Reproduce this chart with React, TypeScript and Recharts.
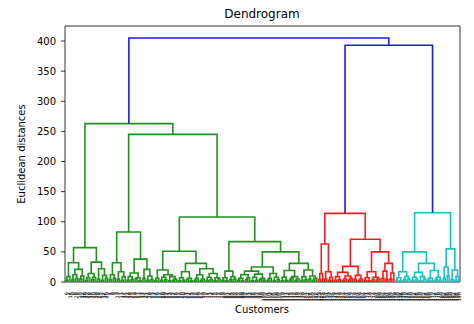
import React from "react";
import { LineChart, Line, XAxis, YAxis, ReferenceArea } from "recharts";

// A node is either a leaf (customer index) or [mergeHeight, left, right]
type Node = number | [number, Node, Node];

// ---------- green cluster ----------
const greenA1: Node = [32, [9, [3, 6, 2], 14], [21, [12, [4, 0, 8], [6, 26, 4]], [10, [5, 30, 12], 16]]];
const greenA2: Node = [33, [14, [7, [3, 10, 22], 18], [8, [4, 34, 20], 38]], [22, [5, 28, 24], [11, [3, 42, 32], [6, 36, 40]]]];
const greenB1: Node = [32, [12, [4, 1, 5], [6, 9, 3]], [17, [5, 13, 7], [9, [3, 11, 17], 15]]];
const greenB2: Node = [38, [15, [9, [3, 21, 19], [4, 25, 23]], [7, [5, 29, 27], [2, 33, 31]]], [21, [6, 37, 35], [10, [3, 41, 39], [4, 45, 43]]]];
const greenC1a: Node = [20, [6, [2, 44, 46], 47], [12, [8, [3, 48, 50], [4, 49, 52]], [9, [2, 51, 53], [5, [3, 55, 54], 56]]]];
const greenC1b: Node = [31, [17, [7, [2, 57, 58], [3, 60, 59]], [6, [4, 61, 62], [2, 64, 63]]], [22, [12, [6, [3, 65, 66], 68], [5, [2, 67, 69], 70]], [14, [8, [3, 72, 71], [4, 73, 74]], [7, [2, 75, 76], [5, 77, 78]]]]];
const greenC2a: Node = [18, [7, [3, 79, 80], [2, 81, 82]], [9, [4, 84, 83], [5, 85, 86]]];
const greenC2bl: Node = [25, [18, [12, [6, [3, 87, 88], [2, 89, 90]], [7, [4, 92, 91], 93]], [13, [8, [2, 94, 96], [3, 95, 97]], [6, [4, 98, 99], [3, 100, 102]]]], [14, [6, [3, 101, 103], 104], [8, [2, 105, 106], [4, 108, 107]]]];
const greenC2br: Node = [31, [19, [8, [2, 109, 110], [3, 111, 112]], [9, [6, [3, 114, 113], 115], [5, [2, 116, 118], 117]]], [20, [9, [3, 119, 120], [4, 121, 122]], [10, [5, 124, 126], [6, [3, 132, 142], 146]]]];
const greenTree: Node = [263, [57, greenA1, greenA2], [245, [83, greenB1, greenB2], [108, [51, greenC1a, greenC1b], [67, greenC2a, [50, greenC2bl, greenC2br]]]]];

// ---------- red cluster ----------
const redR1: Node = [63, [14, [4, 123, 127], 125], [17, [5, 129, 131], [8, [3, 133, 137], 135]]];
const redR2a: Node = [26, [16, [9, [3, 139, 141], [4, 143, 145]], [10, [5, [2, 147, 149], 151], [6, [3, 153, 155], 157]]], [11, [4, 159, 161], [5, [2, 163, 165], 167]]];
const redR2bl: Node = [17, [7, [3, 169, 171], [2, 173, 175]], [8, [4, 177, 179], [5, [2, 181, 183], 185]]];
const redR2br: Node = [31, [18, [6, 187, 189], [4, 191, 193]], [15, [5, 195, 197], 199]];
const redTree: Node = [114, redR1, [71, redR2a, [50, redR2bl, redR2br]]];

// ---------- cyan cluster ----------
const cyanY1a: Node = [17, [7, [3, 128, 130], [2, 134, 136]], [9, [4, 138, 140], [5, 144, 148]]];
const cyanY1b: Node = [31, [16, [8, [3, 150, 152], [4, 154, 156]], [9, [2, 158, 160], [5, 162, 164]]], [19, [6, [3, 166, 168], [2, 170, 172]], [8, [4, 174, 176], [3, 178, 180]]]];
const cyanY2: Node = [55, [25, [6, 182, 184], [10, 186, 188]], [20, [4, 190, 192], [9, [3, 194, 196], 198]]];
const cyanTree: Node = [115, [50, cyanY1a, cyanY1b], cyanY2];

// top-level merges (above colour threshold)
const redCyanMergeHeight = 393;
const rootHeight = 405;

const yTicks = [0, 50, 100, 150, 200, 250, 300, 350, 400];
const yMax = 425;

const COLORS = { green: "#1f911f", red: "#ff1a1a", cyan: "#1abfbf", blue: "#1a1aff" };

type Pt = { x: number; y: number | null };
const segs: Record<string, Pt[]> = { green: [], red: [], cyan: [], blue: [] };
const leafLabels: number[] = [];

function link(a: { x: number; y: number }, b: { x: number; y: number }, h: number, color: string) {
  segs[color].push({ x: a.x, y: a.y }, { x: a.x, y: h }, { x: b.x, y: h }, { x: b.x, y: b.y }, { x: b.x, y: null });
  return { x: (a.x + b.x) / 2, y: h };
}

function layout(node: Node, color: string): { x: number; y: number } {
  if (typeof node === "number") {
    const idx = leafLabels.length;
    leafLabels.push(node);
    return { x: 5 + 10 * idx, y: 0 };
  }
  const a = layout(node[1], color);
  const b = layout(node[2], color);
  return link(a, b, node[0], color);
}

const g = layout(greenTree, "green");
const r = layout(redTree, "red");
const c = layout(cyanTree, "cyan");
const rc = link(r, c, redCyanMergeHeight, "blue");
link(g, rc, rootHeight, "blue");

const leafTicks = leafLabels.map((_, i) => 5 + 10 * i);
const xMax = 10 * leafLabels.length;

const FONT = "DejaVu Sans, sans-serif";

const LeafTick = (props: any) => {
  const { x, y, payload } = props;
  const idx = Math.round((payload.value - 5) / 10);
  const ty = y + 10;
  return (
    <text
      x={x}
      y={ty}
      transform={`rotate(-90, ${x}, ${ty})`}
      textAnchor="end"
      dy="0.35em"
      fontSize={5}
      fontFamily={FONT}
      fill="#000"
    >
      {leafLabels[idx]}
    </text>
  );
};

export default function App() {
  return (
    <div style={{ position: "fixed", left: 0, top: 0, width: 474, height: 324, background: "#fff" }}>
      <LineChart width={474} height={324} margin={{ top: 26, right: 14, bottom: 12, left: 0 }}>
        <XAxis
          dataKey="x"
          type="number"
          domain={[0, xMax]}
          ticks={leafTicks}
          interval={0}
          tick={<LeafTick />}
          tickLine={false}
          axisLine={false}
          tickSize={0}
          tickMargin={0}
          height={30}
          allowDataOverflow
        />
        <YAxis
          type="number"
          domain={[0, yMax]}
          ticks={yTicks}
          interval={0}
          width={65}
          axisLine={false}
          tickLine={{ stroke: "#000", strokeWidth: 0.8 }}
          tickSize={4}
          tickMargin={5}
          tick={{ fontSize: 10, fill: "#000", fontFamily: FONT }}
          allowDataOverflow
        />
        {(["green", "red", "cyan", "blue"] as const).map((k) => (
          <Line
            key={k}
            data={segs[k]}
            dataKey="y"
            stroke={COLORS[k]}
            strokeWidth={1.6}
            dot={false}
            activeDot={false}
            connectNulls={false}
            isAnimationActive={false}
            strokeLinejoin="miter"
            strokeLinecap="butt"
          />
        ))}
        <ReferenceArea x1={0} x2={xMax} y1={0} y2={yMax} fill="none" stroke="#000" strokeWidth={0.8} fillOpacity={0} />
      </LineChart>
      <svg width={474} height={324} style={{ position: "absolute", left: 0, top: 0, pointerEvents: "none" }}>
        <text x={262} y={17.5} textAnchor="middle" fontSize={12} fontFamily={FONT} fill="#000">
          Dendrogram
        </text>
        <text x={262} y={313} textAnchor="middle" fontSize={10} fontFamily={FONT} fill="#000">
          Customers
        </text>
        <text
          x={25}
          y={154}
          transform="rotate(-90, 25, 154)"
          textAnchor="middle"
          fontSize={10}
          fontFamily={FONT}
          fill="#000"
        >
          Euclidean distances
        </text>
      </svg>
    </div>
  );
}
